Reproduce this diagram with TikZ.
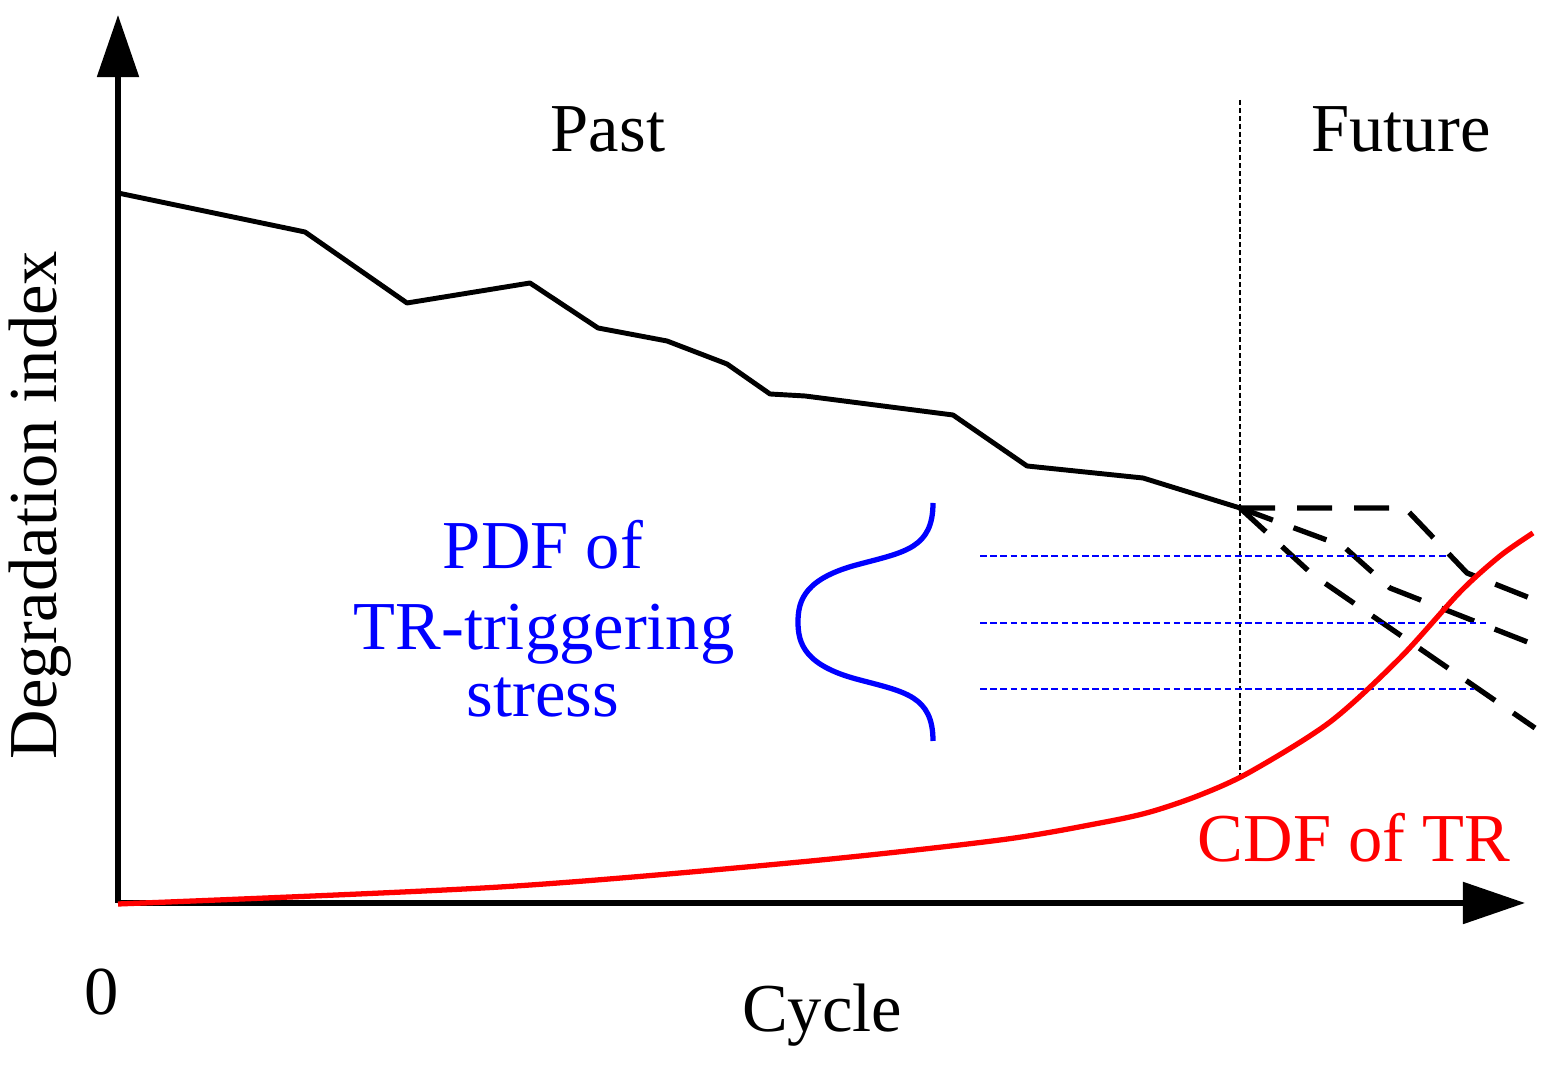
\documentclass[tikz,border=0pt]{standalone}
\usepackage{fontspec}
\setmainfont{Liberation Serif}
\usetikzlibrary{arrows.meta}

\begin{document}
\begin{tikzpicture}[
    x=0.01cm,
    y=-0.01cm,
    txt/.style={
        inner sep=0pt,
        anchor=base,
        font=\fontsize{19.5}{23}\selectfont
    },
    axis/.style={
        -{Triangle[length=0.62cm,width=0.41cm]},
        line width=1.5pt
    },
    history/.style={
        line width=1.4pt,
        line join=round
    },
    forecast/.style={
        line width=1.5pt,
        dash pattern=on 0.35cm off 0.22cm
    },
    level/.style={
        blue,
        line width=0.8pt,
        dash pattern=on 1.9pt off 1.0pt
    },
    divider/.style={
        line width=0.8pt,
        dash pattern=on 1.4pt off 0.85pt
    },
    curve/.style={
        line width=1.5pt
    }
]

\useasboundingbox (0,0) rectangle (1551,1071);

% axes
\coordinate (O) at (118,903);
\coordinate (ytip) at (118,15);
\coordinate (xtip) at (1525,903);

\draw[axis] (O) -- (ytip);
\draw[axis] (O) -- (xtip);

% past / future split
\coordinate (splittop) at (1240,100);
\coordinate (splitbot) at (1240,778);
\draw[divider] (splittop) -- (splitbot);

% measured degradation
\coordinate (now) at (1240,508);
\draw[history] (118,193) -- (305,232) -- (407,303) -- (530,283)
    -- (598,328) -- (667,341) -- (727,364) -- (770,394) -- (805,396)
    -- (953,415) -- (1027,466) -- (1143,478) -- (now);

% predicted paths
\draw[forecast] (now) -- (1405,508) -- (1467,573) -- (1530,598);
\draw[forecast] (now) -- (1343,546) -- (1390,588) -- (1530,643);
\draw[forecast] (now) -- (1313,575) -- (1535,728);

% stress levels
\coordinate (l1a) at (980,556);  \coordinate (l1b) at (1448,556);
\coordinate (l2a) at (980,623);  \coordinate (l2b) at (1486,623);
\coordinate (l3a) at (980,689);  \coordinate (l3b) at (1474,689);
\draw[level] (l1a) -- (l1b);
\draw[level] (l2a) -- (l2b);
\draw[level] (l3a) -- (l3b);

% pdf of stress
\draw[curve, blue] (933,503) .. controls (933,548) and (905,552) .. (860,564)
    .. controls (805,578) and (798,600) .. (798,622)
    .. controls (798,644) and (805,666) .. (860,680)
    .. controls (905,692) and (933,696) .. (933,741);

% cdf of TR
\draw[curve, red] plot[smooth] coordinates {
    (118,904) (500,887) (800,862) (1000,840) (1100,823) (1150,812)
    (1200,795) (1250,772) (1330,722) (1400,658) (1460,592) (1500,556)
    (1533,533)};

% labels
\node[txt] (past) at (608,152) {Past};
\node[txt] (future) at (1401,152) {Future};
\node[txt, rotate=90] (ylab) at (56,505) {Degradation index};
\node[txt] (xlab) at (822,1032) {Cycle};
\node[txt] (zero) at (102,1015) {0};
\node[txt, blue] (pdfa) at (543,569) {PDF of};
\node[txt, blue] (pdfb) at (544,650) {TR-triggering};
\node[txt, blue] (pdfc) at (543,717) {stress};
\node[txt, red] (cdf) at (1354,862) {CDF of TR};

\end{tikzpicture}
\end{document}
